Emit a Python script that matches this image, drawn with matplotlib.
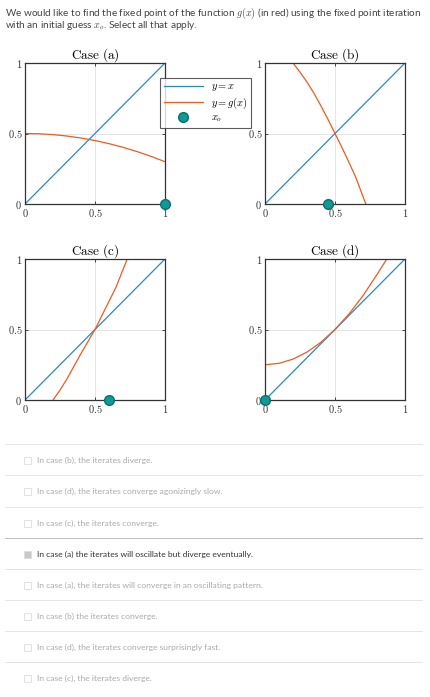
import numpy as np
import matplotlib
matplotlib.use("Agg")
import matplotlib.pyplot as plt
from matplotlib.patches import Rectangle

plt.rcParams['mathtext.fontset'] = 'cm'

W, H = 430, 697
fig = plt.figure(figsize=(W/100, H/100), dpi=100)

BLUE = '#2b86cf'
RED = '#f05a1e'
TEAL = '#0f9a96'

titles = ['Case (a)', 'Case (b)', 'Case (c)', 'Case (d)']
# red curves g(x)
ga_x = [0, 0.1, 0.2, 0.3, 0.4, 0.5, 0.6, 0.7, 0.8, 0.9, 1.0]
ga_y = [0.5, 0.498, 0.492, 0.482, 0.468, 0.45, 0.428, 0.402, 0.372, 0.338, 0.3]
gb_x = [0.2, 0.25, 0.3, 0.35, 0.4, 0.45, 0.5, 0.55, 0.6, 0.65, 0.72]
gb_y = [1.0, 0.935, 0.865, 0.785, 0.695, 0.6, 0.5, 0.4, 0.295, 0.185, 0.0]
gc_x = [0.2, 0.25, 0.3, 0.35, 0.4, 0.45, 0.5, 0.55, 0.6, 0.65, 0.73]
gc_y = [0.0, 0.07, 0.15, 0.24, 0.33, 0.415, 0.5, 0.6, 0.7, 0.8, 1.0]
gd_x = [0, 0.1, 0.2, 0.3, 0.4, 0.5, 0.6, 0.7, 0.8, 0.87]
gd_y = [0.25, 0.26, 0.29, 0.34, 0.41, 0.5, 0.61, 0.74, 0.89, 1.0]
x0_vals = [1.0, 0.45, 0.6, 0.0]
curves = [(ga_x, ga_y), (gb_x, gb_y), (gc_x, gc_y), (gd_x, gd_y)]
tick_vals = [0, 0.5, 1]
tick_labels = [r'$0$', r'$0.5$', r'$1$']

pos = [(25, 63), (265, 63), (25, 259), (265, 259)]
aw, ah = 140, 141
for i, (px, py) in enumerate(pos):
    ax = fig.add_axes([px/W, 1-(py+ah)/H, aw/W, ah/H])
    ax.plot([0, 1], [0, 1], color=BLUE, lw=0.9, label=r'$y=x$')
    gx, gy = curves[i]
    ax.plot(gx, gy, color=RED, lw=0.9, label=r'$y=g(x)$')
    ax.plot([x0_vals[i]], [0], 'o', ms=7, color=TEAL, mec='#0b6f6c', clip_on=False, zorder=5, label=r'$x_o$')
    ax.set_xlim(0, 1); ax.set_ylim(0, 1)
    ax.set_xticks(tick_vals); ax.set_yticks(tick_vals)
    ax.set_xticklabels(tick_labels); ax.set_yticklabels(tick_labels)
    for lab in ax.get_xticklabels() + ax.get_yticklabels():
        lab.set_fontsize(7.5); lab.set_color('#333333')
    ax.tick_params(length=2, width=0.5, pad=2, direction='in', top=True, right=True)
    ax.grid(True, color='#e0e0e0', lw=0.6)
    for s in ax.spines.values():
        s.set_linewidth(0.9); s.set_color('#333333')
    ax.set_title(r'$\mathrm{' + titles[i].replace(' ', r'\ ') + '}$', fontsize=9.5, pad=3)
    if i == 0:
        leg = ax.legend(loc='upper left', bbox_to_anchor=(0.93, 0.93), fontsize=7.5,
                        frameon=True, fancybox=False, edgecolor='#333333',
                        borderpad=0.3, labelspacing=0.2, handlelength=3.8)
        leg.get_frame().set_linewidth(0.8)

# header text
fig.text(5/W, 1-13/H, 'We would like to find the fixed point of the function $g(x)$ (in red) using the fixed point iteration',
         fontsize=7.2, family='Lato', color='#444444', va='center')
fig.text(5/W, 1-25/H, 'with an initial guess $x_o$. Select all that apply.',
         fontsize=7.2, family='Lato', color='#444444', va='center')

choices = ['In case (b), the iterates diverge.',
           'In case (d), the iterates converge agonizingly slow.',
           'In case (c), the iterates converge.',
           'In case (a) the iterates will oscillate but diverge eventually.',
           'In case (a), the iterates will converge in an oscillating pattern.',
           'In case (b) the iterates converge.',
           'In case (d), the iterates converge surprisingly fast.',
           'In case (c), the iterates diverge.']
checked = [False, False, False, True, False, False, False, False]

line_y = [444, 475, 507, 538, 569, 600, 631, 662]
for k, t in enumerate(choices):
    ly = line_y[k]
    fig.add_artist(plt.Line2D([5/W, 422/W], [1-ly/H, 1-ly/H], color='#bbbbbb' if k == 3 else '#e6e6e6', lw=0.7))
    ty = ly + 16
    fig.add_artist(Rectangle((24/W, 1-(ty+4)/H), 7/W, 7/H, fc='#c8c8c8' if checked[k] else 'white',
                             ec='#dddddd', lw=0.6))
    fig.text(37/W, 1-ty/H, t, fontsize=6.1, family='Lato',
             color='#333333' if checked[k] else '#aaaaaa', va='center')

fig.savefig('out.png', dpi=100)
